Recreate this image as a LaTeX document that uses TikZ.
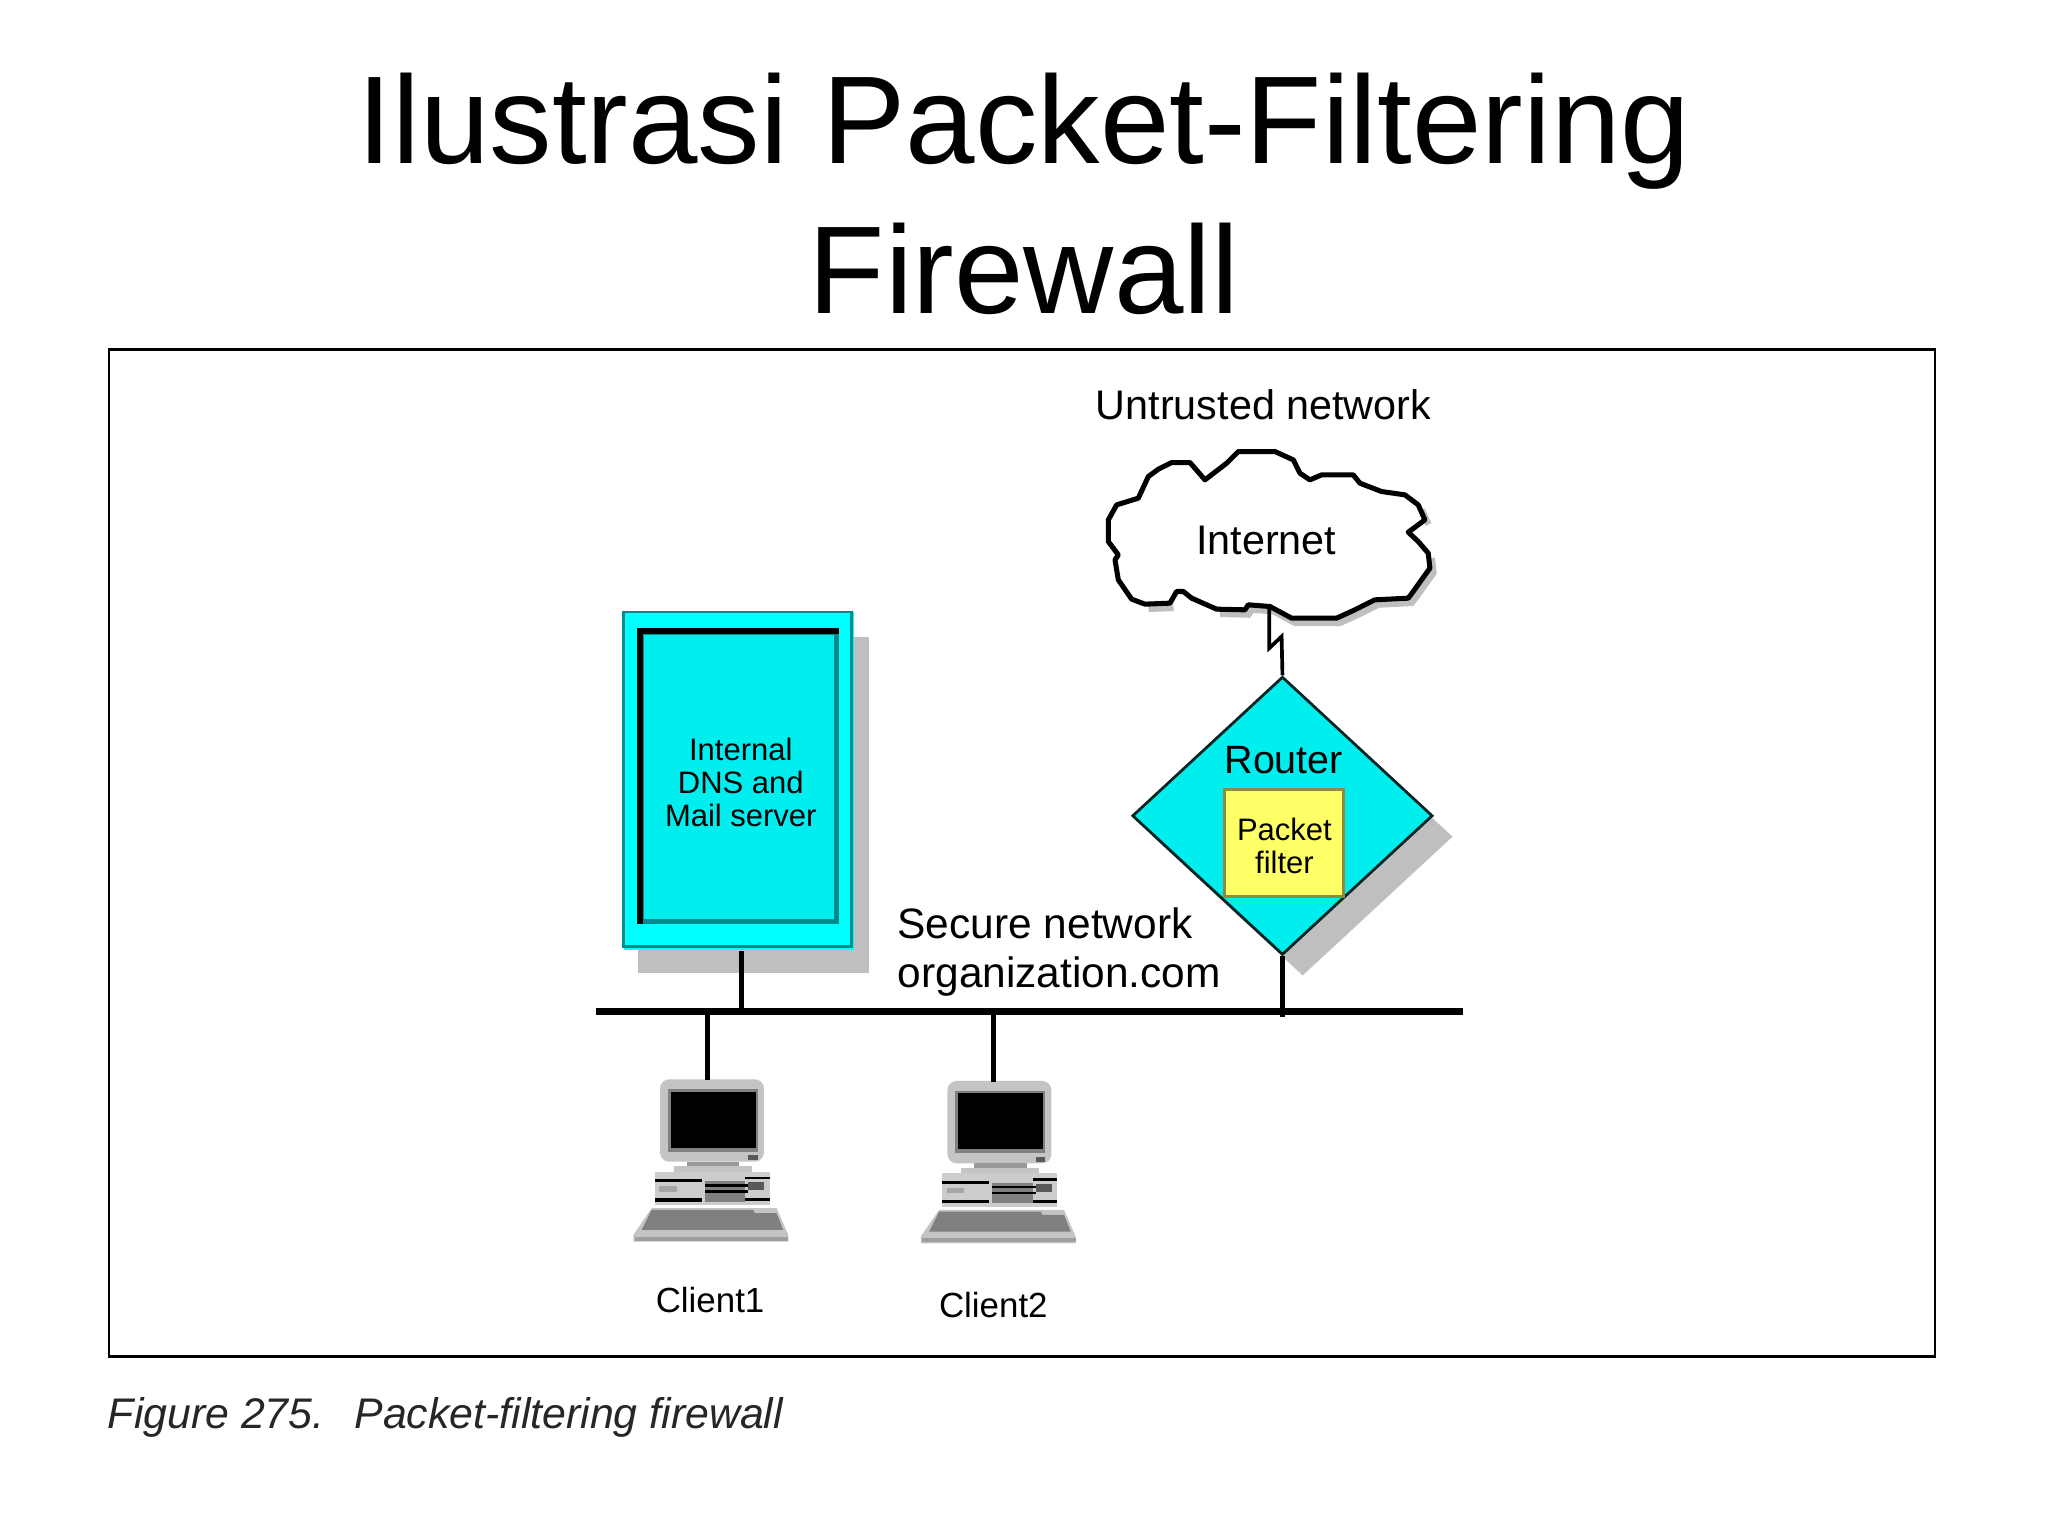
\documentclass[tikz,border=0pt]{standalone}
\usepackage{fontspec}
\setmainfont{Liberation Sans}
\usepackage{xcolor}
\usetikzlibrary{shapes.geometric, positioning, calc}

\definecolor{srvcyan}{HTML}{00FFFF}
\definecolor{boxcyan}{HTML}{00EEEE}
\definecolor{edgeteal}{HTML}{008C8C}
\definecolor{shadowgray}{HTML}{BFBFBF}
\definecolor{filteryellow}{HTML}{FFFF66}
\definecolor{filteredge}{HTML}{8C8C3C}

\tikzset{
    pcbody/.style={fill=black!23},
    pcdark/.style={fill=black!50},
    computer/.pic={
        % monitor
        \fill[pcbody, rounded corners=2pt] (120,88) rectangle (432,335);
        \fill[pcdark] (143,118) rectangle (413,305);
        \fill[black] (152,125) rectangle (408,293);
        \fill[black!65] (385,315) rectangle (413,330);
        \fill[black!40] (200,335) rectangle (358,348);
        \fill[pcbody] (162,348) rectangle (395,370);
        % case
        \fill[black!20] (105,365) rectangle (450,465);
        \fill[black] (105,388) rectangle (246,397);
        \fill[black] (105,445) rectangle (246,455);
        \fill[black] (376,380) rectangle (450,388);
        \fill[black] (376,445) rectangle (450,454);
        \fill[black!35] (118,408) rectangle (170,425);
        \fill[pcdark] (255,393) rectangle (376,455);
        \fill[black] (255,402) rectangle (385,410);
        \fill[black] (255,421) rectangle (385,428);
        \fill[black!65] (385,397) rectangle (433,421);
        % keyboard
        \fill[pcbody] (95,475) -- (470,475) -- (505,555) -- (505,575) -- (40,575) -- (40,555) -- cycle;
        \fill[pcdark] (95,480) -- (400,480) -- (405,490) -- (470,490) -- (490,540) -- (65,540) -- cycle;
        \fill[black!38] (45,560) rectangle (505,572);
        \coordinate (-top) at (263,90);
        \coordinate (-base) at (272,575);
    }
}

\begin{document}
\begin{tikzpicture}[
    x=0.01cm, y=-0.01cm,
    node distance=1cm,
    label/.style={font=\fontsize{9}{10.8}\selectfont, inner sep=0pt, align=center},
    small/.style={font=\fontsize{6.75}{7.1}\selectfont, inner sep=0pt, align=center},
    wire/.style={line width=1.2pt},
    shadow/.style={fill=shadowgray, draw=none, inner sep=0pt},
    router/.style={diamond, inner sep=0pt, minimum width=2.3cm, minimum height=2.13cm}
]
\useasboundingbox (0,0) rectangle (1569,1177);
\fill[white] (0,0) rectangle (1569,1177);

\node[font=\fontsize{27.2}{32.7}\selectfont, align=center, inner sep=0pt] (title) at (784.5,148.5) {Ilustrasi Packet-Filtering\\Firewall};
\node[draw, line width=0.6pt, minimum width=13.98cm, minimum height=7.71cm, inner sep=0pt] (frame) at (783,653.5) {};
\node[font=\fontsize{9.33}{11}\selectfont\itshape, anchor=west, inner sep=0pt, text=black!85] (caption) at (82,1086) {Figure 275.\hspace{0.7em}Packet-filtering firewall};

% server
\node[shadow, minimum width=1.77cm, minimum height=2.57cm] (servershadow) at (577.5,616.5) {};
\node[fill=srvcyan, inner sep=0pt, minimum width=1.76cm, minimum height=2.59cm] (servertop) at (566,598.5) {};
\node[fill=srvcyan, draw=edgeteal, line width=0.6pt, inner sep=0pt, minimum width=1.74cm, minimum height=2.56cm] (server) at (565,597) {};
\node[fill=boxcyan, draw=edgeteal, line width=1pt, inner sep=0pt, minimum width=1.49cm, minimum height=2.21cm] (serverbox) at (566.5,595.5) {};
\node[small] (servertext) at (567.5,599.5) {Internal\\DNS and\\Mail server};
\draw[line width=1.3pt] (serverbox.south west) -- (serverbox.north west) -- (serverbox.north east);

% router
\node[router, shadow] (routershadow) at (998,641) {};
\node[router, fill=boxcyan, draw=black!75!edgeteal, line width=0.6pt] (routerbox) at (982.5,625) {};
\node[fill=filteryellow, draw=filteredge, line width=0.7pt, inner sep=0pt, minimum width=0.91cm, minimum height=0.82cm] (filter) at (983.5,646) {};
\node[small] (filtertext) at (984,648) {Packet\\filter};
\node[label, font=\fontsize{8.6}{10}\selectfont, above=0.1cm of filter] (routertext) {Router};

% cloud
\begin{scope}[shift={(827.4,283.4)}, scale=0.2553]
\draw[line width=1.4pt, shadowgray, xshift=3, yshift=-4] (1015,405) -- (1035,450) (1045,550) -- (1050,595) -- (1000,665) -- (985,685) -- (885,690) -- (825,720) -- (770,745) -- (635,745) -- (570,710) -- (505,705) -- (495,720) -- (410,718) (270,700) -- (195,703);
\draw[line width=1.1pt, line join=round, fill=white] (475,245) -- (585,245) -- (640,270) -- (660,310) -- (690,330) -- (725,315) -- (820,315) -- (840,340) -- (905,365) -- (975,375) -- (1015,405) -- (1035,450) -- (985,487) -- (1015,515) -- (1045,550) -- (1050,595) -- (1000,665) -- (985,685) -- (885,690) -- (825,720) -- (770,745) -- (635,745) -- (570,710) -- (505,705) -- (495,720) -- (410,718) -- (335,685) -- (310,665) -- (290,665) -- (270,700) -- (195,703) -- (155,688) -- (115,630) -- (105,570) -- (115,555) -- (85,515) -- (85,450) -- (110,405) -- (175,385) -- (205,320) -- (235,298) -- (275,278) -- (330,278) -- (375,330) -- (440,280) -- cycle;
\coordinate (cloudport) at (568,710);
\coordinate (zig1) at (568,835);
\coordinate (zig2) at (605,800);
\end{scope}
\node[label] (internet) at (970,414) {Internet};
\node[label] (untrusted) at (968,310) {Untrusted network};
\draw[line width=0.8pt] (cloudport) -- (zig1) -- (zig2) -- (routerbox.north);

\node[label, font=\fontsize{9.25}{10.8}\selectfont, anchor=west, align=left] (secure) at (687,729.5) {Secure network\\organization.com};

% bus
\node[fill=black, inner sep=0pt, minimum width=6.64cm, minimum height=0.055cm] (bus) at (789,775) {};
\coordinate (servertap) at (568,775);
\coordinate (routertap) at (982.5,779);
\coordinate (client1tap) at (542,775);
\coordinate (client2tap) at (761,775);

% clients
\pic[scale=0.2553] (client1) at (475,804.4) {computer};
\pic[scale=0.2553] (client2) at (695.2,805.7) {computer};
\node[label, font=\fontsize{7.6}{9}\selectfont] (client1text) at (544,996) {Client1};
\node[label, font=\fontsize{7.6}{9}\selectfont] (client2text) at (761,1000) {Client2};

\draw[wire] (servertop.south -| servertap) -- (servertap);
\draw[wire] (routerbox.south) -- (routertap);
\draw[wire] (client1tap) -- (client1tap |- client1-top);
\draw[wire] (client2tap) -- (client2tap |- client2-top);
\end{tikzpicture}
\end{document}
